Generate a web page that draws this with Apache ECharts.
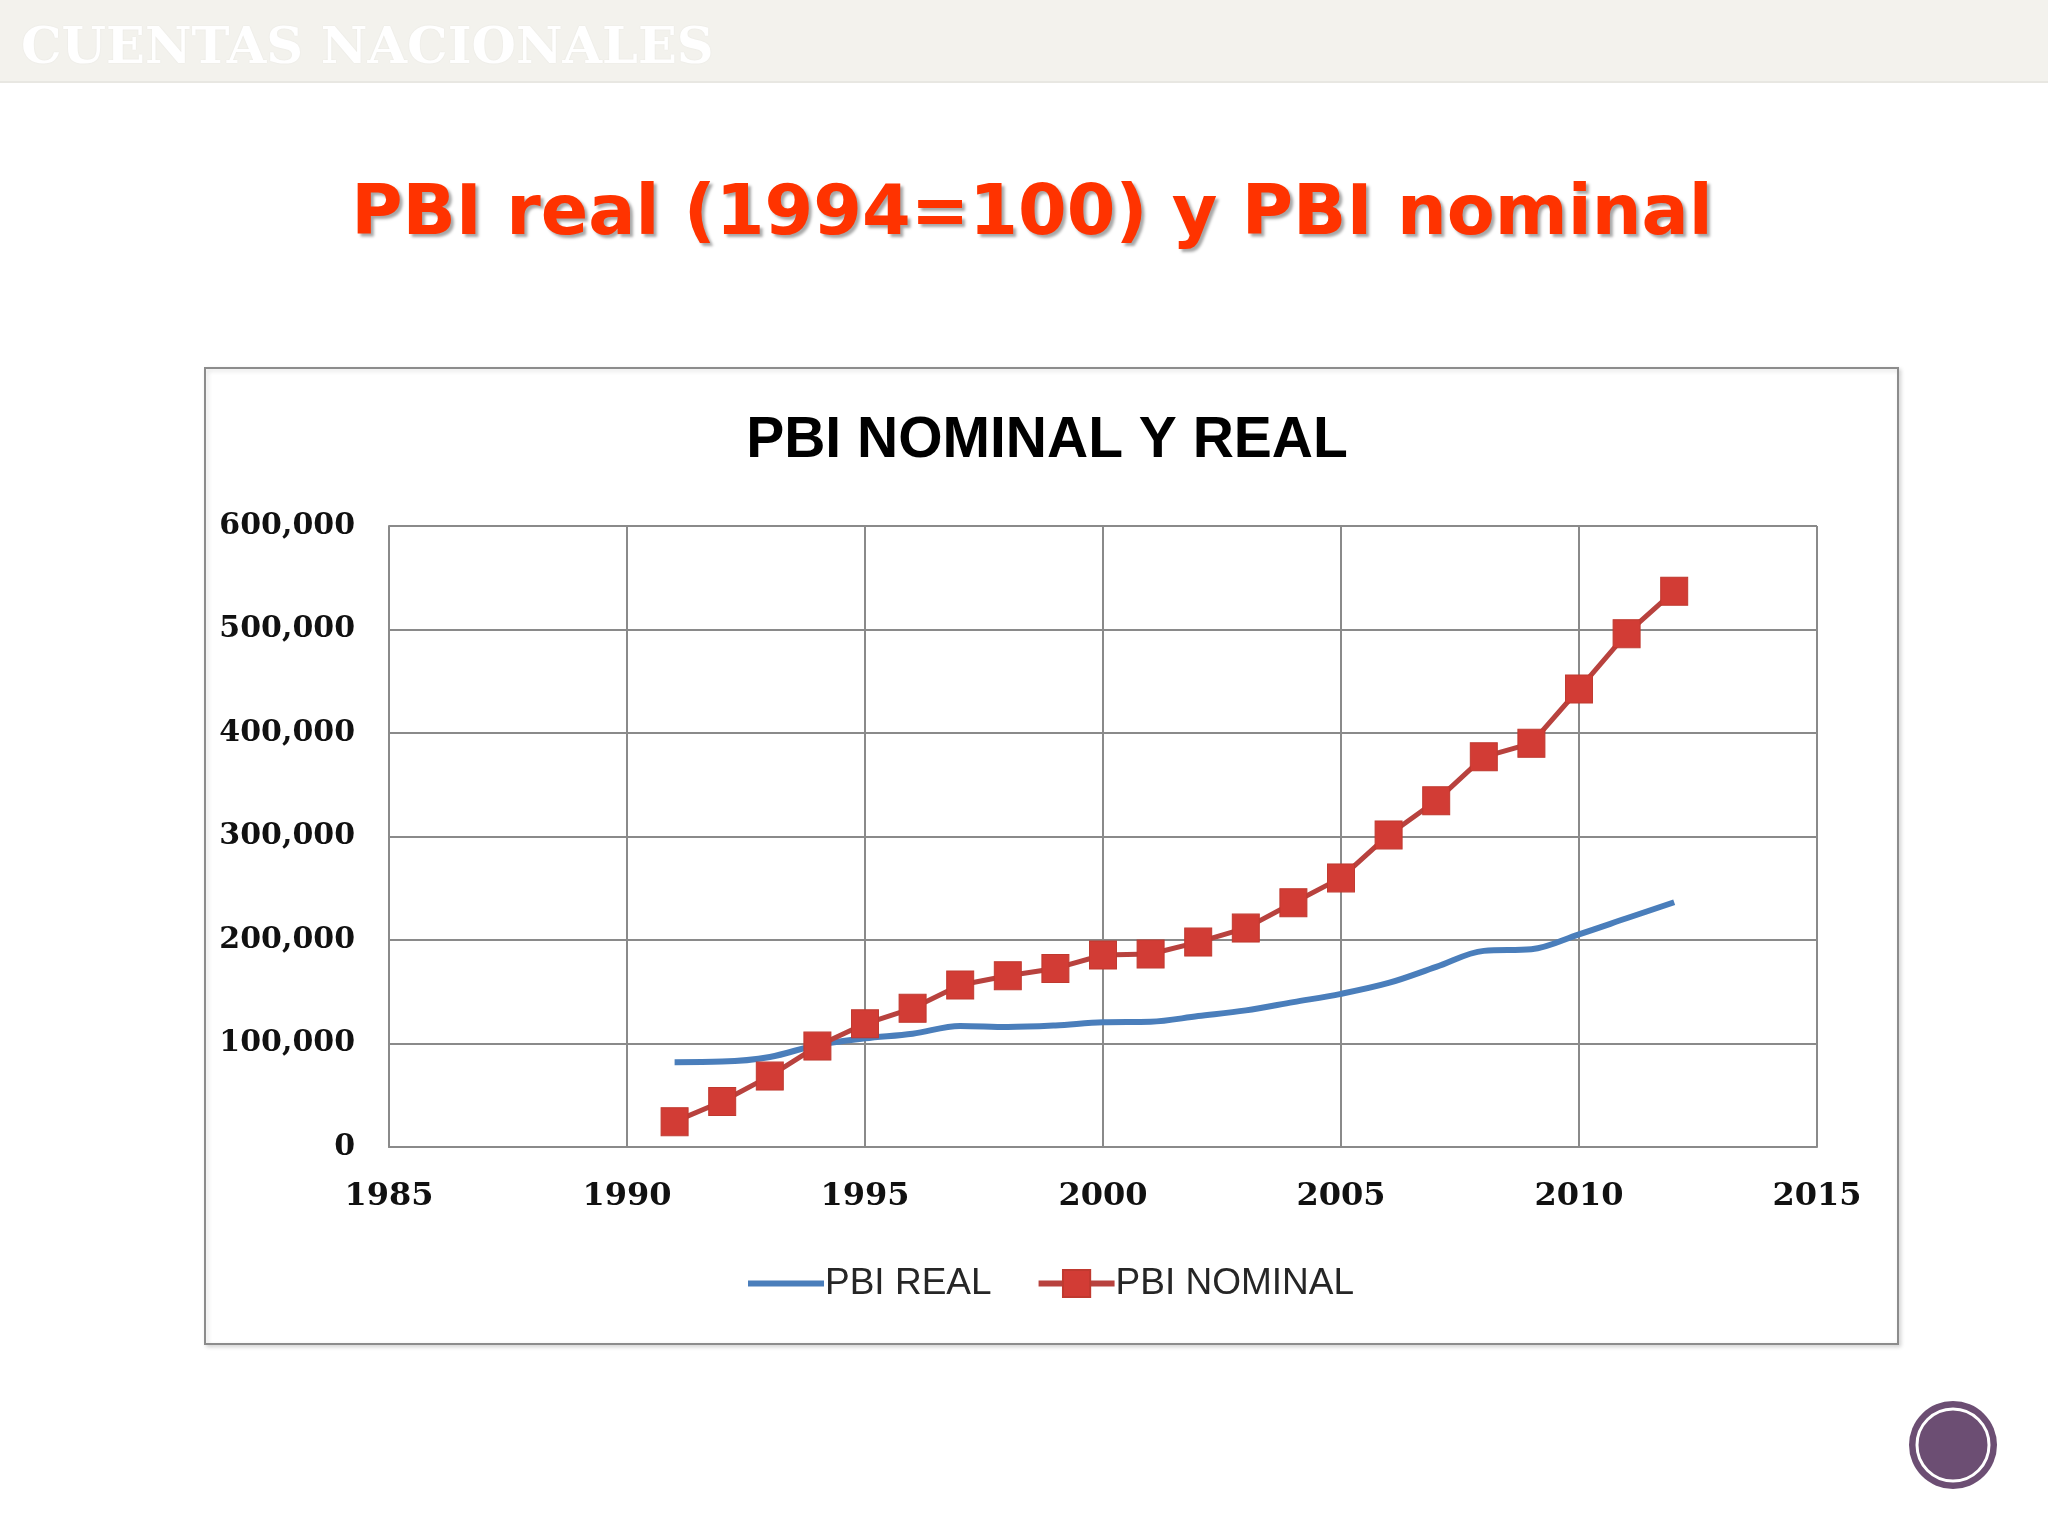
<!DOCTYPE html>
<html>
<head>
<meta charset="utf-8">
<script src="https://cdn.jsdelivr.net/npm/echarts@6/dist/echarts.min.js"></script>
<style>
html,body{margin:0;padding:0;background:#ffffff;}
#chart{width:2048px;height:1536px;}
</style>
</head>
<body>
<div id="chart"></div>
<script>
var years = [1991,1992,1993,1994,1995,1996,1997,1998,1999,2000,2001,2002,2003,2004,2005,2006,2007,2008,2009,2010,2011,2012];
var pbiReal = [82000,82500,87000,98600,105000,109500,117000,116000,117500,120500,121000,126500,132000,140000,148000,158500,174000,189500,191000,205500,221000,236500];
var pbiNominal = [24500,44000,68500,97500,119000,134000,156500,165500,172500,185500,186500,198000,211500,236000,260000,301500,334500,377000,390000,442500,496000,537000];
var seriesNames = ['PBI REAL','PBI NOMINAL'];
var headerText = 'CUENTAS NACIONALES';
var slideTitle = 'PBI real (1994=100) y PBI nominal';
var chartTitle = 'PBI NOMINAL Y REAL';

function pairs(vals){ return years.map(function(y,i){ return [y, vals[i]]; }); }
function fmt(v){ return v.toString().replace(/\B(?=(\d{3})+(?!\d))/g, ','); }

var chart = echarts.init(document.getElementById('chart'), null, {renderer:'canvas'});
var gridColor = '#8a8a8a';
chart.setOption({
  animation: false,
  backgroundColor: '#ffffff',
  graphic: [
    {type:'rect', z:-10, shape:{x:0,y:0,width:2048,height:82}, style:{fill:'#f3f2ed'}},
    {type:'rect', z:-10, shape:{x:0,y:81,width:2048,height:2}, style:{fill:'#e8e7e2'}},
    {type:'text', z:-9, style:{text:headerText, x:21, y:75, textVerticalAlign:'bottom', fill:'#ffffff',
      font:'bold 51px "DejaVu Serif", serif', textShadowColor:'rgba(0,0,0,0.06)', textShadowBlur:2}},
    {type:'text', z:-9, style:{text:slideTitle, x:1032, y:216, textAlign:'center', textVerticalAlign:'middle',
      fill:'#ff3300', font:'bold 70px "DejaVu Sans", sans-serif',
      textShadowColor:'rgba(0,0,0,0.35)', textShadowBlur:3, textShadowOffsetX:3, textShadowOffsetY:3}},
    {type:'rect', z:-8, shape:{x:205,y:368,width:1693,height:976},
      style:{fill:'#ffffff', stroke:'#8c8c8c', lineWidth:2, shadowColor:'rgba(0,0,0,0.15)', shadowBlur:4, shadowOffsetX:2, shadowOffsetY:2}},
    {type:'text', z:5, style:{text:chartTitle, x:1047, y:441, textAlign:'center', textVerticalAlign:'middle',
      fill:'#000000', font:'bold 57px "Liberation Sans Narrow", "Liberation Sans", sans-serif'}},
    {type:'circle', z:5, shape:{cx:1953, cy:1445, r:44}, style:{fill:'#6c4e73'}},
    {type:'circle', z:6, shape:{cx:1953, cy:1445, r:36}, style:{fill:'none', stroke:'#ffffff', lineWidth:3}}
  ],
  legend: {
    left: 740, top: 1260,
    itemWidth: 76, itemHeight: 34, itemGap: 44,
    lineStyle: {width: 6},
    textStyle: {fontSize: 37, color:'#262626', fontFamily:'"Liberation Sans", sans-serif', padding:[0,0,0,-4]},
    data: [{name: seriesNames[0], itemStyle:{opacity:0}}, {name: seriesNames[1]}]
  },
  grid: {left:389, top:526, width:1428, height:621, containLabel:false},
  xAxis: {
    type:'value', min:1985, max:2015, interval:5,
    axisLine:{show:true, lineStyle:{color:gridColor, width:2}},
    axisTick:{show:false},
    splitLine:{show:true, lineStyle:{color:gridColor, width:2}},
    axisLabel:{margin:34, fontSize:32, color:'#111111', fontFamily:'"DejaVu Serif", serif', fontWeight:'bold',
      formatter:function(v){ return String(v); }}
  },
  yAxis: {
    type:'value', min:0, max:600000, interval:100000,
    axisLine:{show:true, lineStyle:{color:gridColor, width:2}},
    axisTick:{show:false},
    splitLine:{show:true, lineStyle:{color:gridColor, width:2}},
    axisLabel:{margin:34, fontSize:30, color:'#111111', fontFamily:'"DejaVu Serif", serif', fontWeight:'bold', formatter:fmt}
  },
  series: [
    {name:seriesNames[0], type:'line', data:pairs(pbiReal), smooth:0.35, showSymbol:false, symbol:'none',
     lineStyle:{color:'#4a7ebb', width:6}, itemStyle:{color:'#4a7ebb'}, z:3},
    {name:seriesNames[1], type:'line', data:pairs(pbiNominal), smooth:false, symbol:'rect', symbolSize:[27,28],
     showSymbol:true, lineStyle:{color:'#b8423e', width:5}, itemStyle:{color:'#d23c35', borderColor:'#c0392f', borderWidth:1}, z:4}
  ]
});
</script>
</body>
</html>
